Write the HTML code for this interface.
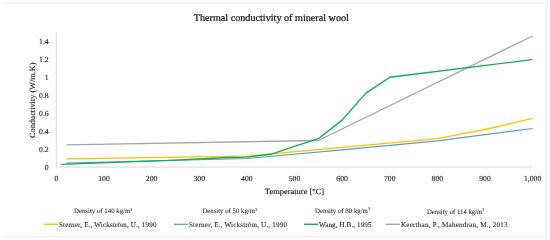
<!DOCTYPE html>
<html lang="en">
<head>
<meta charset="utf-8">
<title>Thermal conductivity of mineral wool</title>
<style>
html,body{margin:0;padding:0;background:#fff;}
body{width:550px;height:240px;overflow:hidden;}
svg{display:block;}
text{font-family:"Liberation Serif", serif;text-rendering:geometricPrecision;fill:#1a1a1a;stroke:#1a1a1a;stroke-width:0.07px;}
</style>
</head>
<body>
<svg width="550" height="240" viewBox="0 0 550 240">
<rect x="0" y="0" width="550" height="240" fill="#ffffff"/>
<line x1="2.5" y1="3.2" x2="546.9" y2="3.2" stroke="#f0f0f0" stroke-width="1.3"/>
<line x1="546.4" y1="2.6" x2="546.4" y2="237.2" stroke="#eaeaea" stroke-width="1.1"/>
<line x1="2.5" y1="236.6" x2="546.9" y2="236.6" stroke="#f0f0f0" stroke-width="1.4"/>
<line x1="2.5" y1="3" x2="2.5" y2="237" stroke="#fcfcfc" stroke-width="1"/>
<line x1="56.3" y1="32.3" x2="56.3" y2="167.05" stroke="#D9D9D9" stroke-width="1"/>
<line x1="56.3" y1="167.05" x2="532.5" y2="167.05" stroke="#D9D9D9" stroke-width="1"/>
<text transform="translate(271.30 21.40) scale(1.0061 1)" font-size="10.1" text-anchor="middle" style="stroke-width:0.22px;fill:#111;stroke:#111;">Thermal conductivity of mineral wool</text>
<text transform="translate(48.70 169.90) scale(1.0000 1)" font-size="7.7" text-anchor="end" style="stroke-width:0.12px;">0</text>
<text transform="translate(48.70 151.90) scale(1.0000 1)" font-size="7.7" text-anchor="end" style="stroke-width:0.12px;">0.2</text>
<text transform="translate(48.70 133.90) scale(1.0000 1)" font-size="7.7" text-anchor="end" style="stroke-width:0.12px;">0.4</text>
<text transform="translate(48.70 115.90) scale(1.0000 1)" font-size="7.7" text-anchor="end" style="stroke-width:0.12px;">0.6</text>
<text transform="translate(48.70 97.90) scale(1.0000 1)" font-size="7.7" text-anchor="end" style="stroke-width:0.12px;">0.8</text>
<text transform="translate(48.70 79.90) scale(1.0000 1)" font-size="7.7" text-anchor="end" style="stroke-width:0.12px;">1</text>
<text transform="translate(48.70 61.90) scale(1.0000 1)" font-size="7.7" text-anchor="end" style="stroke-width:0.12px;">1.2</text>
<text transform="translate(48.70 43.90) scale(1.0000 1)" font-size="7.7" text-anchor="end" style="stroke-width:0.12px;">1.4</text>
<text transform="translate(56.40 181.20) scale(1.0000 1)" font-size="7.7" text-anchor="middle" style="stroke-width:0.12px;">0</text>
<text transform="translate(104.02 181.20) scale(1.0000 1)" font-size="7.7" text-anchor="middle" style="stroke-width:0.12px;">100</text>
<text transform="translate(151.64 181.20) scale(1.0000 1)" font-size="7.7" text-anchor="middle" style="stroke-width:0.12px;">200</text>
<text transform="translate(199.26 181.20) scale(1.0000 1)" font-size="7.7" text-anchor="middle" style="stroke-width:0.12px;">300</text>
<text transform="translate(246.88 181.20) scale(1.0000 1)" font-size="7.7" text-anchor="middle" style="stroke-width:0.12px;">400</text>
<text transform="translate(294.50 181.20) scale(1.0000 1)" font-size="7.7" text-anchor="middle" style="stroke-width:0.12px;">500</text>
<text transform="translate(342.12 181.20) scale(1.0000 1)" font-size="7.7" text-anchor="middle" style="stroke-width:0.12px;">600</text>
<text transform="translate(389.74 181.20) scale(1.0000 1)" font-size="7.7" text-anchor="middle" style="stroke-width:0.12px;">700</text>
<text transform="translate(437.36 181.20) scale(1.0000 1)" font-size="7.7" text-anchor="middle" style="stroke-width:0.12px;">800</text>
<text transform="translate(484.98 181.20) scale(1.0000 1)" font-size="7.7" text-anchor="middle" style="stroke-width:0.12px;">900</text>
<text transform="translate(532.60 181.20) scale(1.0000 1)" font-size="7.7" text-anchor="middle" style="stroke-width:0.12px;">1,000</text>
<text transform="translate(294.50 193.70) scale(1.0709 1)" font-size="7.9" text-anchor="middle" style="stroke-width:0.14px;">Temperature [°C]</text>
<text transform="translate(34.90 100.20) rotate(-90) scale(1.0505 1)" font-size="7.9" text-anchor="middle" style="stroke-width:0.12px;">Conductivity (W/m.K)</text>
<polyline points="66.6,158.8 246.9,156.2 342.1,147.3 437.4,138.6 485.0,129.5 532.6,118.4" fill="none" stroke="#FFC000" stroke-width="1.35" stroke-linejoin="round"/>
<polyline points="66.6,163.1 246.9,158.5 342.1,149.8 437.4,140.9 485.0,134.7 532.6,128.5" fill="none" stroke="#5B9BD5" stroke-width="1.25" stroke-linejoin="round"/>
<polyline points="66.6,144.8 318.3,140.5 532.6,36.0" fill="none" stroke="#A5A5A5" stroke-width="1.35" stroke-linejoin="round"/>
<polyline points="61.2,164.4 175.5,160.1 223.1,157.8 246.9,157.1 270.7,154.3 294.5,146.4 318.3,138.7 342.1,120.1 365.9,93.1 389.7,77.3 532.6,59.6" fill="none" stroke="#10B14F" stroke-width="1.40" stroke-linejoin="round"/>
<line x1="43.6" y1="224.3" x2="58.0" y2="224.3" stroke="#FFC000" stroke-width="1.35"/>
<text transform="translate(59.00 226.70) scale(1.0000 1)" font-size="7.1" style="letter-spacing:0.156px;">Sterner, E., Wickström, U., 1990</text>
<text transform="translate(74.00 212.90) scale(0.9908 1)" font-size="6.9" style="stroke-width:0.05px;">Density of 140 kg/m<tspan font-size="4" dy="-2.4">3</tspan></text>
<line x1="174.0" y1="224.3" x2="188.0" y2="224.3" stroke="#5B9BD5" stroke-width="1.25"/>
<text transform="translate(189.00 226.70) scale(1.0000 1)" font-size="7.1" style="letter-spacing:0.169px;">Sterner, E., Wickström, U., 1990</text>
<text transform="translate(202.40 212.90) scale(0.9836 1)" font-size="6.9" style="stroke-width:0.05px;">Density of 50 kg/m<tspan font-size="4" dy="-2.4">3</tspan></text>
<line x1="304.0" y1="224.3" x2="318.0" y2="224.3" stroke="#10B14F" stroke-width="1.40"/>
<text transform="translate(319.00 226.70) scale(1.0000 1)" font-size="7.1" style="letter-spacing:0.100px;">Wang, H.B., 1995</text>
<text transform="translate(315.00 212.80) scale(0.9911 1)" font-size="6.9" style="stroke-width:0.05px;">Density of 80 kg/m<tspan font-size="4" dy="-2.4">3</tspan></text>
<line x1="385.6" y1="224.3" x2="400.0" y2="224.3" stroke="#A5A5A5" stroke-width="1.35"/>
<text transform="translate(401.00 226.70) scale(1.0000 1)" font-size="7.1" style="letter-spacing:0.213px;">Keerthan, P., Mahendran, M., 2013</text>
<text transform="translate(427.00 213.60) scale(0.9776 1)" font-size="6.9" style="stroke-width:0.05px;">Density of 114 kg/m<tspan font-size="4" dy="-2.4">3</tspan></text>
</svg>
</body>
</html>
